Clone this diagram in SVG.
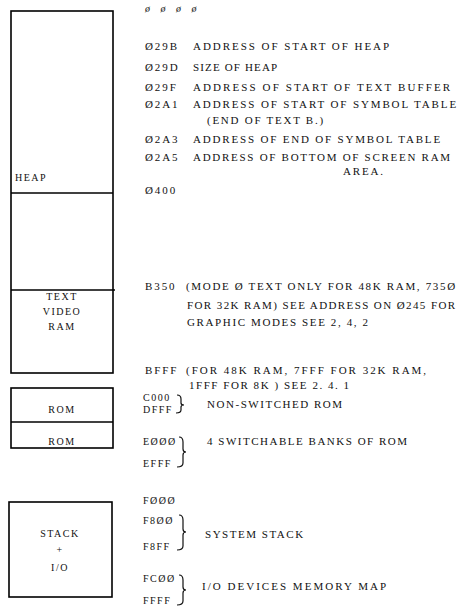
<svg xmlns="http://www.w3.org/2000/svg" width="472" height="607" viewBox="0 0 472 607">
<style>
  text { font-family: "Liberation Serif", "DejaVu Serif", serif; font-size: 11px; fill: #111; letter-spacing: 1.9px; }
  .sm { font-size: 10px; letter-spacing: 1.5px; }
  .mid { text-anchor: middle; }
  .box { fill: #fff; stroke: #000; stroke-width: 1.6; }
  .div { stroke: #000; stroke-width: 1.6; fill: none; }
  .brace { stroke: #111; stroke-width: 1.2; fill: none; }
</style>
<rect width="472" height="607" fill="#fff"/>

<g id="ram-block">
  <rect class="box" x="11" y="11" width="102" height="362"/>
  <line class="div" x1="11" y1="193" x2="113" y2="193"/>
  <line class="div" x1="11" y1="290" x2="115" y2="290"/>
</g>
<g id="heap">
  <text x="15" y="181" class="sm">HEAP</text>
</g>
<g id="text-video-ram">
  <text x="62" y="300" class="sm mid">TEXT</text>
  <text x="62" y="315" class="sm mid">VIDEO</text>
  <text x="62" y="330" class="sm mid">RAM</text>
</g>

<g id="rom-block">
  <rect class="box" x="11" y="388" width="102" height="60"/>
  <line class="div" x1="11" y1="422" x2="113" y2="422"/>
  <text x="62" y="413" class="sm mid">ROM</text>
  <text x="62" y="445" class="sm mid">ROM</text>
</g>

<g id="stack-io">
  <rect class="box" x="9" y="502" width="103" height="95"/>
  <text x="60" y="537" class="sm mid">STACK</text>
  <text x="60" y="553" class="sm mid">+</text>
  <text x="60" y="571" class="sm mid">I/O</text>
</g>

<g id="addresses">
  <text x="145" y="12" class="sm" style="font-style:italic;letter-spacing:4px">ø ø ø ø</text>
  <text x="145" y="50">Ø29B</text><text x="193" y="50" textLength="198" lengthAdjust="spacing">ADDRESS OF START OF HEAP</text>
  <text x="145" y="71">Ø29D</text><text x="193" y="71" textLength="86" lengthAdjust="spacing">SIZE OF HEAP</text>
  <text x="145" y="91">Ø29F</text><text x="193" y="91" textLength="259" lengthAdjust="spacing">ADDRESS OF START OF TEXT BUFFER</text>
  <text x="145" y="108">Ø2A1</text><text x="193" y="108" textLength="265" lengthAdjust="spacing">ADDRESS OF START OF SYMBOL TABLE</text>
  <text x="207" y="124" textLength="118" lengthAdjust="spacing">(END OF TEXT B.)</text>
  <text x="145" y="143">Ø2A3</text><text x="193" y="143" textLength="249" lengthAdjust="spacing">ADDRESS OF END OF SYMBOL TABLE</text>
  <text x="145" y="161">Ø2A5</text><text x="193" y="161" textLength="259" lengthAdjust="spacing">ADDRESS OF BOTTOM OF SCREEN RAM</text>
  <text x="343" y="175" textLength="42" lengthAdjust="spacing">AREA.</text>
  <text x="145" y="194">Ø400</text>

  <text x="145" y="290">B350</text><text x="186" y="290" textLength="271" lengthAdjust="spacing">(MODE Ø TEXT ONLY FOR 48K RAM, 735Ø</text>
  <text x="187" y="309" textLength="270" lengthAdjust="spacing">FOR 32K RAM) SEE ADDRESS ON Ø245 FOR</text>
  <text x="187" y="326" textLength="183" lengthAdjust="spacing">GRAPHIC MODES SEE 2, 4, 2</text>

  <text x="145" y="374">BFFF</text><text x="186" y="374" textLength="242" lengthAdjust="spacing">(FOR 48K RAM, 7FFF FOR 32K RAM,</text>
  <text x="189" y="389" textLength="162" lengthAdjust="spacing">1FFF FOR 8K ) SEE 2. 4. 1</text>

  <text x="143" y="401" class="sm">C000</text>
  <text x="143" y="413" class="sm">DFFF</text>
  <text x="207" y="408" textLength="137" lengthAdjust="spacing">NON-SWITCHED ROM</text>

  <text x="143" y="445" class="sm">EØØØ</text>
  <text x="143" y="467" class="sm">EFFF</text>
  <text x="207" y="445" textLength="202" lengthAdjust="spacing">4 SWITCHABLE BANKS OF ROM</text>

  <text x="143" y="504" class="sm">FØØØ</text>
  <text x="143" y="524" class="sm">F8ØØ</text>
  <text x="143" y="550" class="sm">F8FF</text>
  <text x="205" y="538" textLength="100" lengthAdjust="spacing">SYSTEM STACK</text>

  <text x="143" y="582" class="sm">FCØØ</text>
  <text x="143" y="604" class="sm">FFFF</text>
  <text x="202" y="590" textLength="186" lengthAdjust="spacing">I/O DEVICES MEMORY MAP</text>
</g>

<g id="connectors">
  <path class="brace" d="M177,395 Q181,395 181,399 L181,403 Q181,405 184,405 Q181,405 181,407 L181,410 Q181,413 176,413"/>
  <path class="brace" d="M179,437 Q183,437 183,442 L183,449 Q183,452 186,452 Q183,452 183,455 L183,463 Q183,467 177,467"/>
  <path class="brace" d="M179,515 Q183,515 183,520 L183,529 Q183,532 186,532 Q183,532 183,535 L183,546 Q183,550 177,550"/>
  <path class="brace" d="M179,575 Q183,575 183,580 L183,587 Q183,590 186,590 Q183,590 183,593 L183,601 Q183,605 177,605"/>
</g>
</svg>
